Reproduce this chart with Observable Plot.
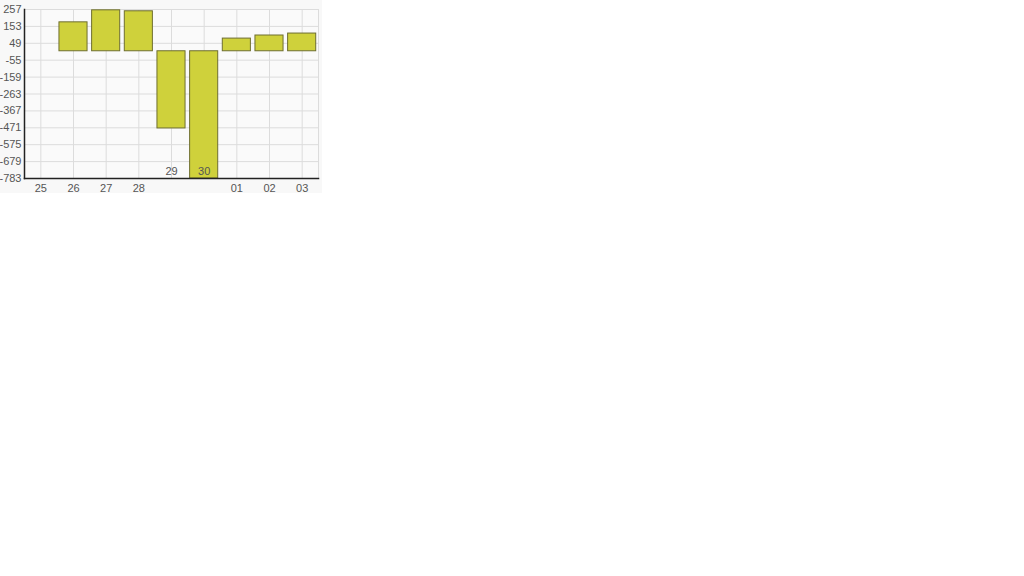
<!DOCTYPE html>
<html>
<head>
<meta charset="utf-8">
<script src="https://cdn.jsdelivr.net/npm/d3@7"></script>
<script src="https://cdn.jsdelivr.net/npm/@observablehq/plot@0.6"></script>
<style>
  html, body { margin: 0; padding: 0; background: #ffffff; }
  #chart { position: absolute; left: 0; top: 0; }
  #chart svg { background: #f8f8f8; display: block; }
</style>
</head>
<body>
<div id="chart"></div>
<script>
const days = ["25", "26", "27", "28", "29", "30", "01", "02", "03"];
const values = [null, 178, 252, 246, -475, -783, 78, 97, 109];
const yTicks = [257, 153, 49, -55, -159, -263, -367, -471, -575, -679, -783];
const raisedLabels = ["29", "30"];

const data = days.map((d, i) => ({day: d, value: values[i]})).filter(d => d.value != null);
const lowLabels = days.filter(d => !raisedLabels.includes(d));

const font = "Liberation Sans, Arial, sans-serif";

const chart = Plot.plot({
  width: 322,
  height: 193,
  marginLeft: 24,
  marginRight: 4,
  marginTop: 9,
  marginBottom: 15,
  style: {fontFamily: font, fontSize: "11px", color: "#555", background: "#f8f8f8", overflow: "visible"},
  x: {domain: days, paddingInner: 0.14, paddingOuter: 0.07, round: false, axis: null, label: null},
  y: {domain: [-783, 257], axis: null, label: null},
  marks: [
    Plot.frame({fill: "#fafafa", stroke: "#dcdcdc"}),
    Plot.gridX(days, {stroke: "#dcdcdc", strokeOpacity: 1, strokeWidth: 1}),
    Plot.gridY(yTicks, {stroke: "#dcdcdc", strokeOpacity: 1, strokeWidth: 1}),
    Plot.barY(data, {x: "day", y: "value", fill: "#cfd13b", stroke: "#6e6e30", strokeWidth: 1, inset: 0}),
    Plot.axisY(yTicks, {anchor: "left", label: null, tickSize: 0, tickPadding: 3, tickFormat: d => String(d), fill: "#555", fontSize: 11}),
    Plot.axisX(lowLabels, {anchor: "bottom", label: null, tickSize: 0, tickPadding: 6, fill: "#555", fontSize: 11}),
    Plot.axisX(raisedLabels, {anchor: "bottom", label: null, tickSize: 0, tickPadding: 6, dy: -17, fill: "#555", fontSize: 11}),
    Plot.frame({anchor: "left", stroke: "#222", strokeWidth: 1.5}),
    Plot.frame({anchor: "bottom", stroke: "#222", strokeWidth: 1.5})
  ]
});
document.getElementById("chart").appendChild(chart);
</script>
</body>
</html>
